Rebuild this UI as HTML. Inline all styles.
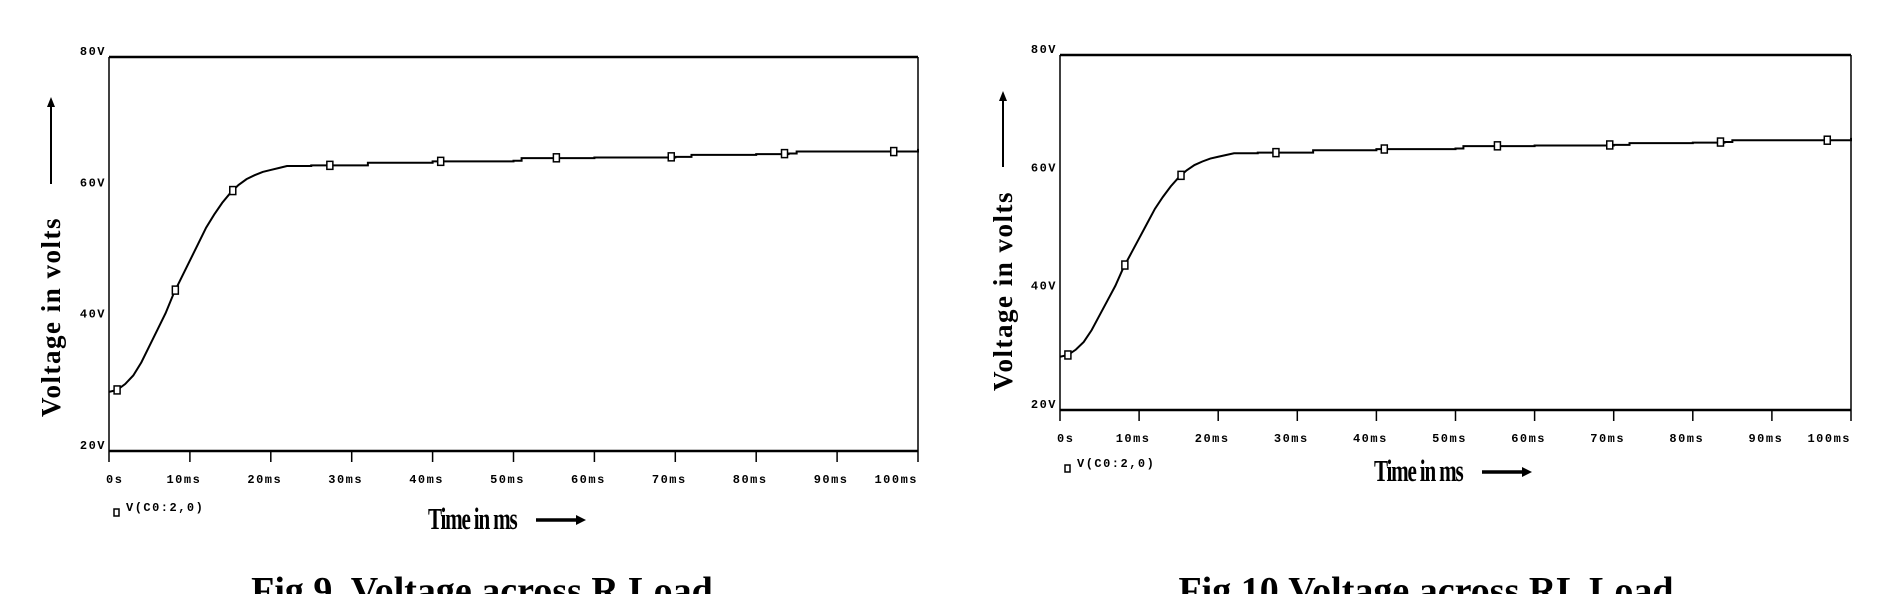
<!DOCTYPE html>
<html><head><meta charset="utf-8"><style>
html,body{margin:0;padding:0;background:#fff;width:1880px;height:594px;overflow:hidden}
svg{display:block}
.tk{font-family:"Liberation Mono",monospace;font-size:12px;font-weight:bold;fill:#000;letter-spacing:1.5px}
.yt{font-family:"Liberation Serif",serif;font-size:27px;font-weight:bold;fill:#000;letter-spacing:1.5px}
.xt{font-family:"Liberation Serif",serif;font-size:27px;font-weight:bold;fill:#000;letter-spacing:-1.5px}
.cap{font-family:"Liberation Serif",serif;font-size:38px;font-weight:bold;fill:#000}
</style></head><body>
<svg id="svg" width="1880" height="594" viewBox="0 0 1880 594" xmlns="http://www.w3.org/2000/svg"></svg>
<script>
const times = [0,1,2,3,4,5,6,7,8,9,10,11,12,13,14,15,16,17,18,19,20,21,22,25,30,32,40,50,51,60,70,72,80,84,85,90,98,100];
const voltsR = [29,29.3,30.2,31.5,33.5,36,38.5,41,44,46.5,49,51.5,54,56,57.8,59.3,60.5,61.4,62,62.5,62.8,63.1,63.4,63.5,63.5,63.9,64.1,64.2,64.6,64.7,64.8,65.1,65.2,65.3,65.6,65.6,65.6,66];
const voltsRL = [29,29.3,30.2,31.5,33.5,36,38.5,41,44,46.5,49,51.5,54,56,57.8,59.3,60.5,61.4,62,62.5,62.8,63.1,63.4,63.5,63.5,63.9,64.1,64.2,64.6,64.7,64.8,65.1,65.2,65.3,65.6,65.6,65.6,66];
const markerTimes = [1,8.2,15.3,27.3,41,55.3,69.5,83.5,97];
const xTicks = [0,10,20,30,40,50,60,70,80,90,100];
const xTickLabels = ["0s","10ms","20ms","30ms","40ms","50ms","60ms","70ms","80ms","90ms","100ms"];
const yTicks = [20,40,60,80];
const yTickLabels = ["20V","40V","60V","80V"];

const NS="http://www.w3.org/2000/svg";
const svg=document.getElementById('svg');
function mk(tag,attrs,parent){const e=document.createElementNS(NS,tag);for(const k in attrs)e.setAttribute(k,attrs[k]);(parent||svg).appendChild(e);return e;}
function interp(arr,t){for(let i=1;i<times.length;i++){if(t<=times[i]){const f=(t-times[i-1])/(times[i]-times[i-1]);return arr[i-1]+f*(arr[i]-arr[i-1]);}}return arr[arr.length-1];}

function chart(o){
  const g=mk('g',{});
  
  
  const X=t=>o.L+(t/100)*(o.R-o.L);
  const Y=v=>o.B-((v-20)/60)*(o.B-o.T);
  const frame=mk('g',{},g);
  
  
  mk('line',{x1:o.L,y1:o.T,x2:o.R,y2:o.T,stroke:'#000','stroke-width':2.5},frame);
  mk('line',{x1:o.L,y1:o.B,x2:o.R,y2:o.B,stroke:'#000','stroke-width':2.5},frame);
  mk('line',{x1:o.L,y1:o.T,x2:o.L,y2:o.B,stroke:'#000','stroke-width':1.5},frame);
  mk('line',{x1:o.R,y1:o.T,x2:o.R,y2:o.B,stroke:'#000','stroke-width':1.5},frame);
  yTicks.forEach((v,i)=>{
    const t=mk('text',{x:o.L-3,y:Y(v)-2,'text-anchor':'end',class:'tk'},g);
    t.textContent=yTickLabels[i];
    
    
  });
  xTicks.forEach((v,i)=>{
    const l=mk('line',{x1:X(v),y1:o.B,x2:X(v),y2:o.B+11,stroke:'#000','stroke-width':1.5},g);
    
    
    const anchor=i===0?'start':(i===xTicks.length-1?'end':'middle');
    const t=mk('text',{x:i===0?X(v)-3:X(v)+(i===xTicks.length-1?0:-6),y:o.B+32,'text-anchor':anchor,class:'tk'},g);
    t.textContent=xTickLabels[i];
    
    
  });
  let d='';
  times.forEach((t,i)=>{
    const px=X(t),py=Y(o.data[i]);
    if(i===0)d+='M'+px+' '+py;
    else if(t>22){d+=' H'+px+' V'+py;}
    else d+=' L'+px+' '+py;
  });
  const p=mk('path',{d:d,fill:'none',stroke:'#000','stroke-width':2},g);
  
  
  markerTimes.forEach(t=>{
    const r=mk('rect',{x:X(t)-3,y:Y(interp(o.data,t))-4,width:6,height:8,fill:'#fff',stroke:'#000','stroke-width':1.5},g);
    
    
  });
  const lg=mk('g',{},g);
  
  
  mk('rect',{x:o.L+5,y:o.legY-3,width:5,height:7,fill:'#fff',stroke:'#000','stroke-width':1.5},lg);
  const lt=mk('text',{x:o.L+17,y:o.legY-1,class:'tk'},lg);
  lt.textContent='V(C0:2,0)';
  const xg=mk('g',{},g);
  
  
  const xt=mk('text',{x:o.xtX,y:o.xtY,class:'xt',transform:`translate(${o.xtX},${o.xtY}) scale(0.78,1.15) translate(${-o.xtX},${-o.xtY})`},xg);
  xt.textContent='Time in ms';
  mk('line',{x1:o.xtX+108,y1:o.xtY-9,x2:o.xtX+150,y2:o.xtY-9,stroke:'#000','stroke-width':3.5},xg);
  mk('polygon',{points:`${o.xtX+148},${o.xtY-14} ${o.xtX+158},${o.xtY-9} ${o.xtX+148},${o.xtY-4}`,fill:'#000'},xg);
  const yg=mk('g',{},g);
  
  
  const yt=mk('text',{x:0,y:0,class:'yt','text-anchor':'middle',transform:`translate(${o.ytX},${o.ytY}) rotate(-90)`},yg);
  yt.textContent='Voltage in volts';
  mk('line',{x1:o.ytX-9,y1:o.arB,x2:o.ytX-9,y2:o.arT+8,stroke:'#000','stroke-width':2},yg);
  mk('polygon',{points:`${o.ytX-13},${o.arT+10} ${o.ytX-9},${o.arT} ${o.ytX-5},${o.arT+10}`,fill:'#000'},yg);
  const c=mk('text',{x:o.capX,y:603,class:'cap','text-anchor':'middle'},g);
  c.textContent=o.caption;
  
  
}
chart({name:'chart-r-load',L:109,R:918,T:57,B:451,data:voltsR,legY:512,xtX:428,xtY:529,ytX:60,ytY:317,arT:97,arB:184,capX:482,caption:'Fig.9. Voltage across R Load'});
chart({name:'chart-rl-load',L:1060,R:1851,T:55,B:410,data:voltsRL,legY:468,xtX:1374,xtY:481,ytX:1012,ytY:291,arT:91,arB:167,capX:1426,caption:'Fig.10.Voltage across RL Load'});
</script>
</body></html>
